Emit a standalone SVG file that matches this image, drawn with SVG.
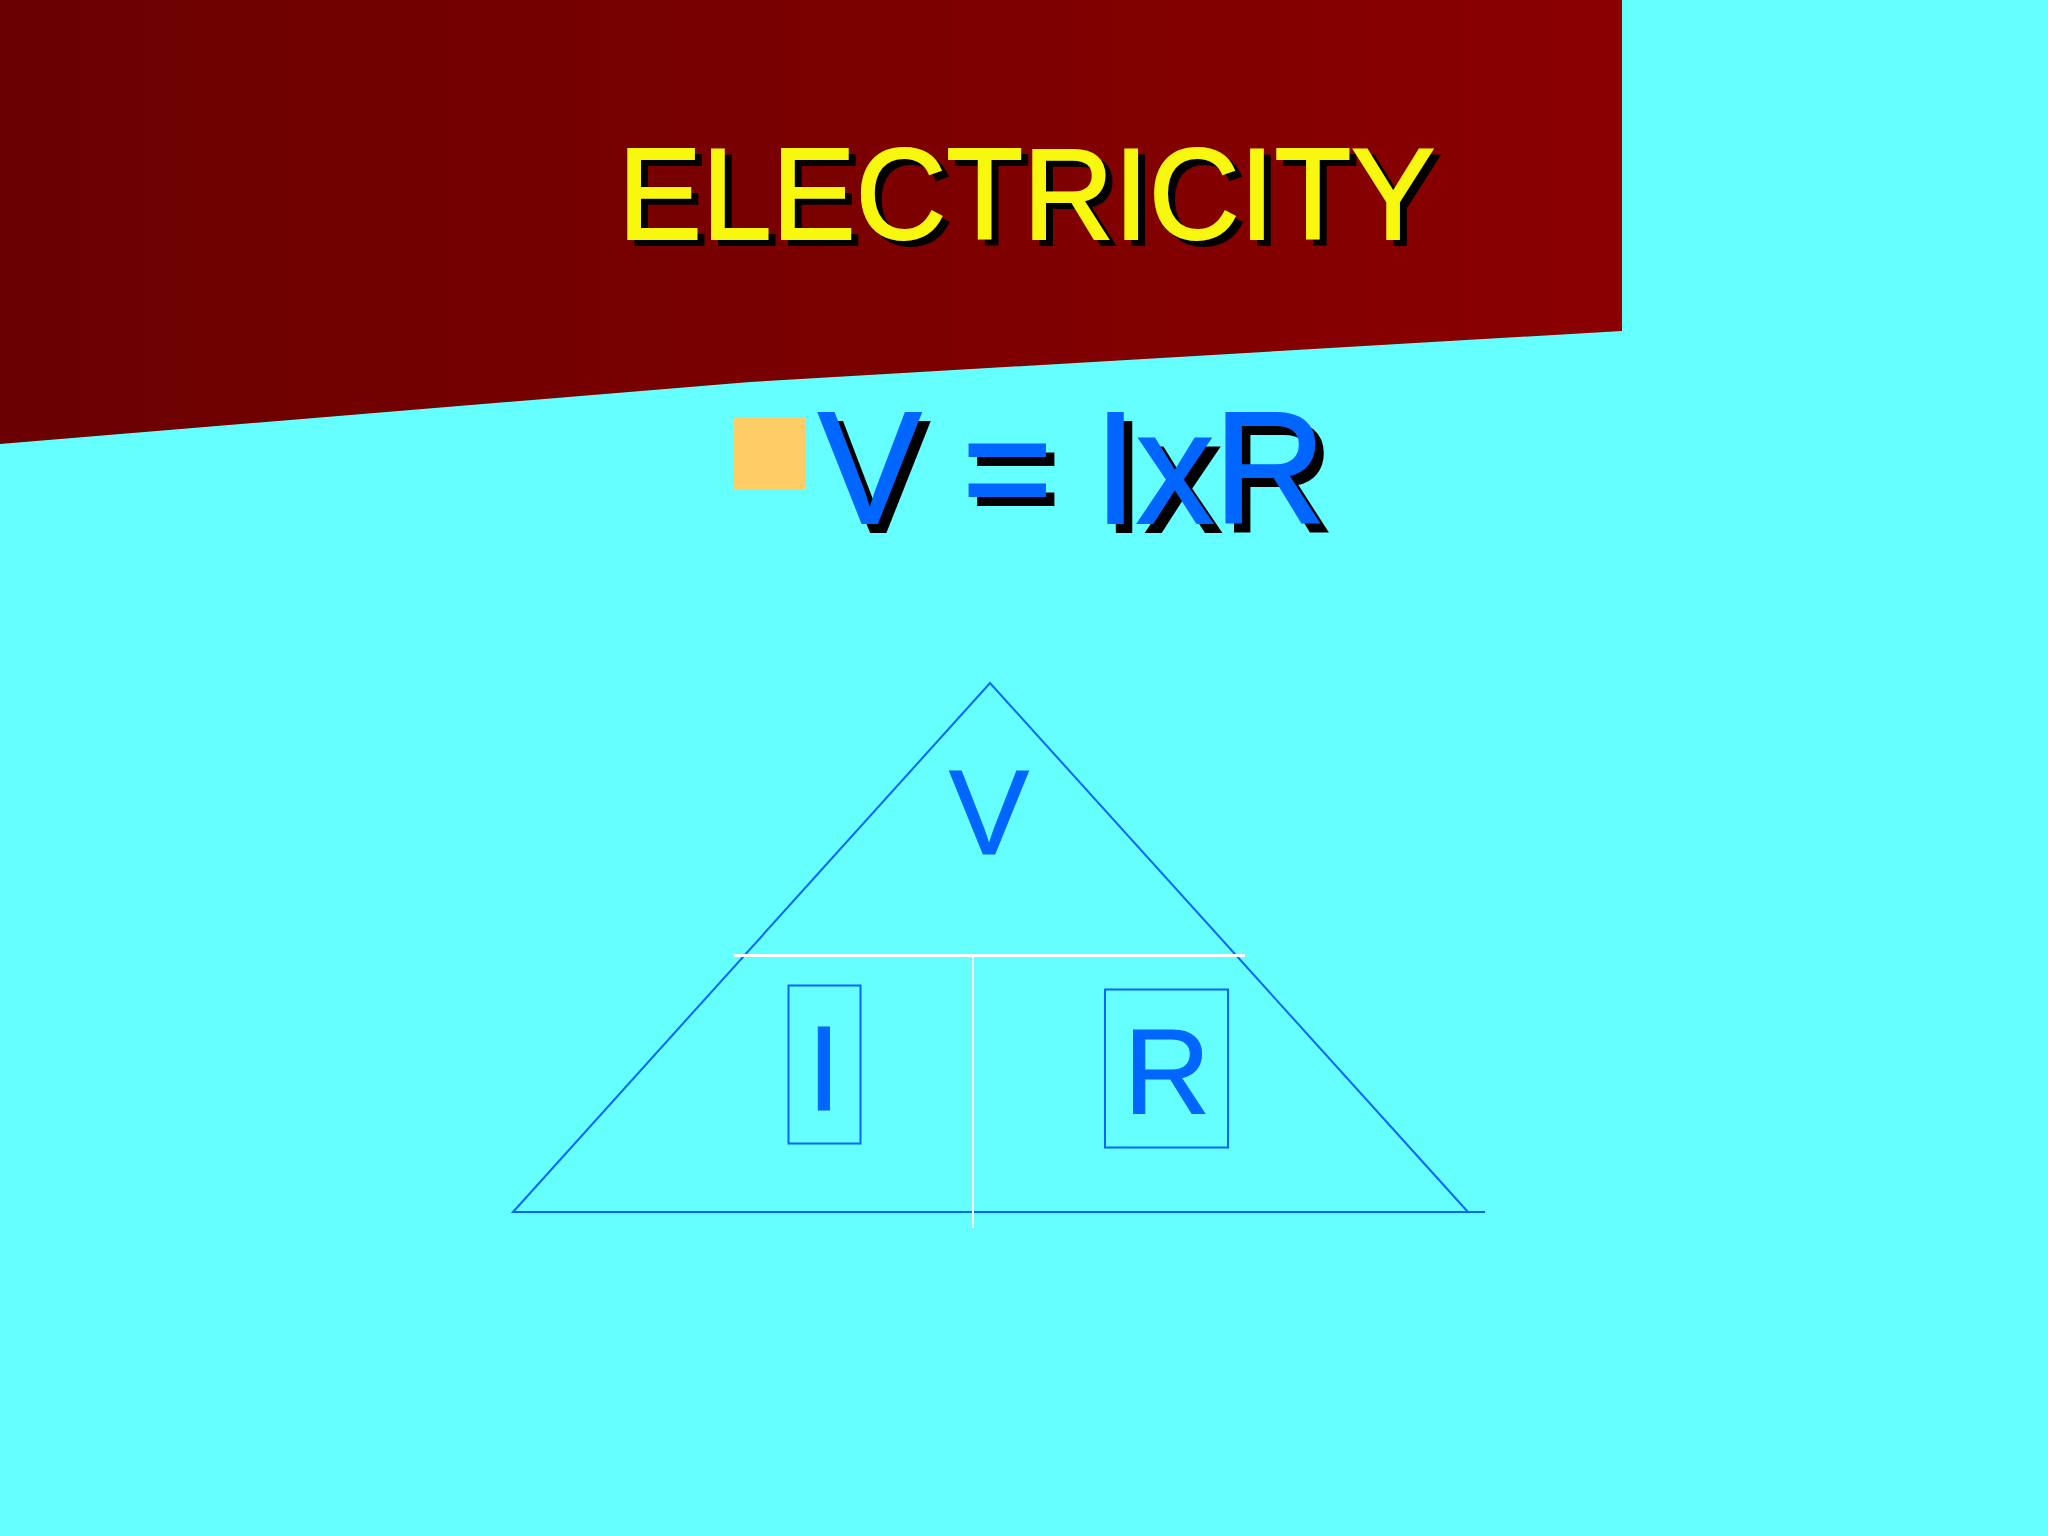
<svg xmlns="http://www.w3.org/2000/svg" width="2048" height="1536" viewBox="0 0 2048 1536">
<style>
text{font-family:"Liberation Sans",Arial,sans-serif}
.title{font-size:129px;stroke-width:2}
.formula{font-size:160px;stroke-width:2}
.big{font-size:120px;fill:#0066ff;stroke:#0066ff;stroke-width:1}
.blue{fill:none;stroke:#0066ff;stroke-width:2}
.white{fill:none;stroke:#ffffff;stroke-width:3}
</style>
<defs>
<linearGradient id="banner" x1="0" y1="0" x2="1" y2="0">
<stop offset="0" stop-color="#6a0000"/>
<stop offset="1" stop-color="#8b0000"/>
</linearGradient>
</defs>
<rect id="background" width="2048" height="1536" fill="#66ffff"/>
<polygon id="title-band" points="0,0 1622,0 1622,331 750,382 0,444" fill="url(#banner)"/>
<g id="title">
<text class="title" x="618" y="245" fill="#000000" stroke="#000000" textLength="817" lengthAdjust="spacingAndGlyphs" transform="translate(7,0)">ELECTRICITY</text>
<text class="title" x="618" y="239" fill="#f7f70f" stroke="#f7f70f" textLength="817" lengthAdjust="spacingAndGlyphs">ELECTRICITY</text>
</g>
<g id="formula">
<rect x="733" y="417" width="72" height="72" fill="#ffcc66"/>
<text class="formula" transform="translate(826.500,532) scale(.97,1)" x="0 148.500 284.500 328 408" y="0" fill="#000000" stroke="#000000">V=IxR</text>
<text class="formula" transform="translate(818,523) scale(.97,1)" x="0 148.500 284.500 328 408" y="0" fill="#0066ff" stroke="#0066ff">V=IxR</text>
</g>
<g id="connectors">
<polyline class="blue" points="1485,1212 513,1212 990,683 1468,1212"/>
<line class="white" x1="734" y1="955.500" x2="1245" y2="955.500"/>
<line class="white" x1="973" y1="955" x2="973" y2="1228" style="stroke-width:2"/>
</g>
<g id="node-v"><text class="big" x="989" y="854" text-anchor="middle">V</text></g>
<g id="node-i">
<rect class="blue" x="788.500" y="985.500" width="72" height="158"/>
<text class="big" x="824" y="1110" text-anchor="middle">I</text>
</g>
<g id="node-r">
<rect class="blue" x="1105" y="989.500" width="123" height="158"/>
<text class="big" x="1167" y="1114" text-anchor="middle">R</text>
</g>
</svg>
